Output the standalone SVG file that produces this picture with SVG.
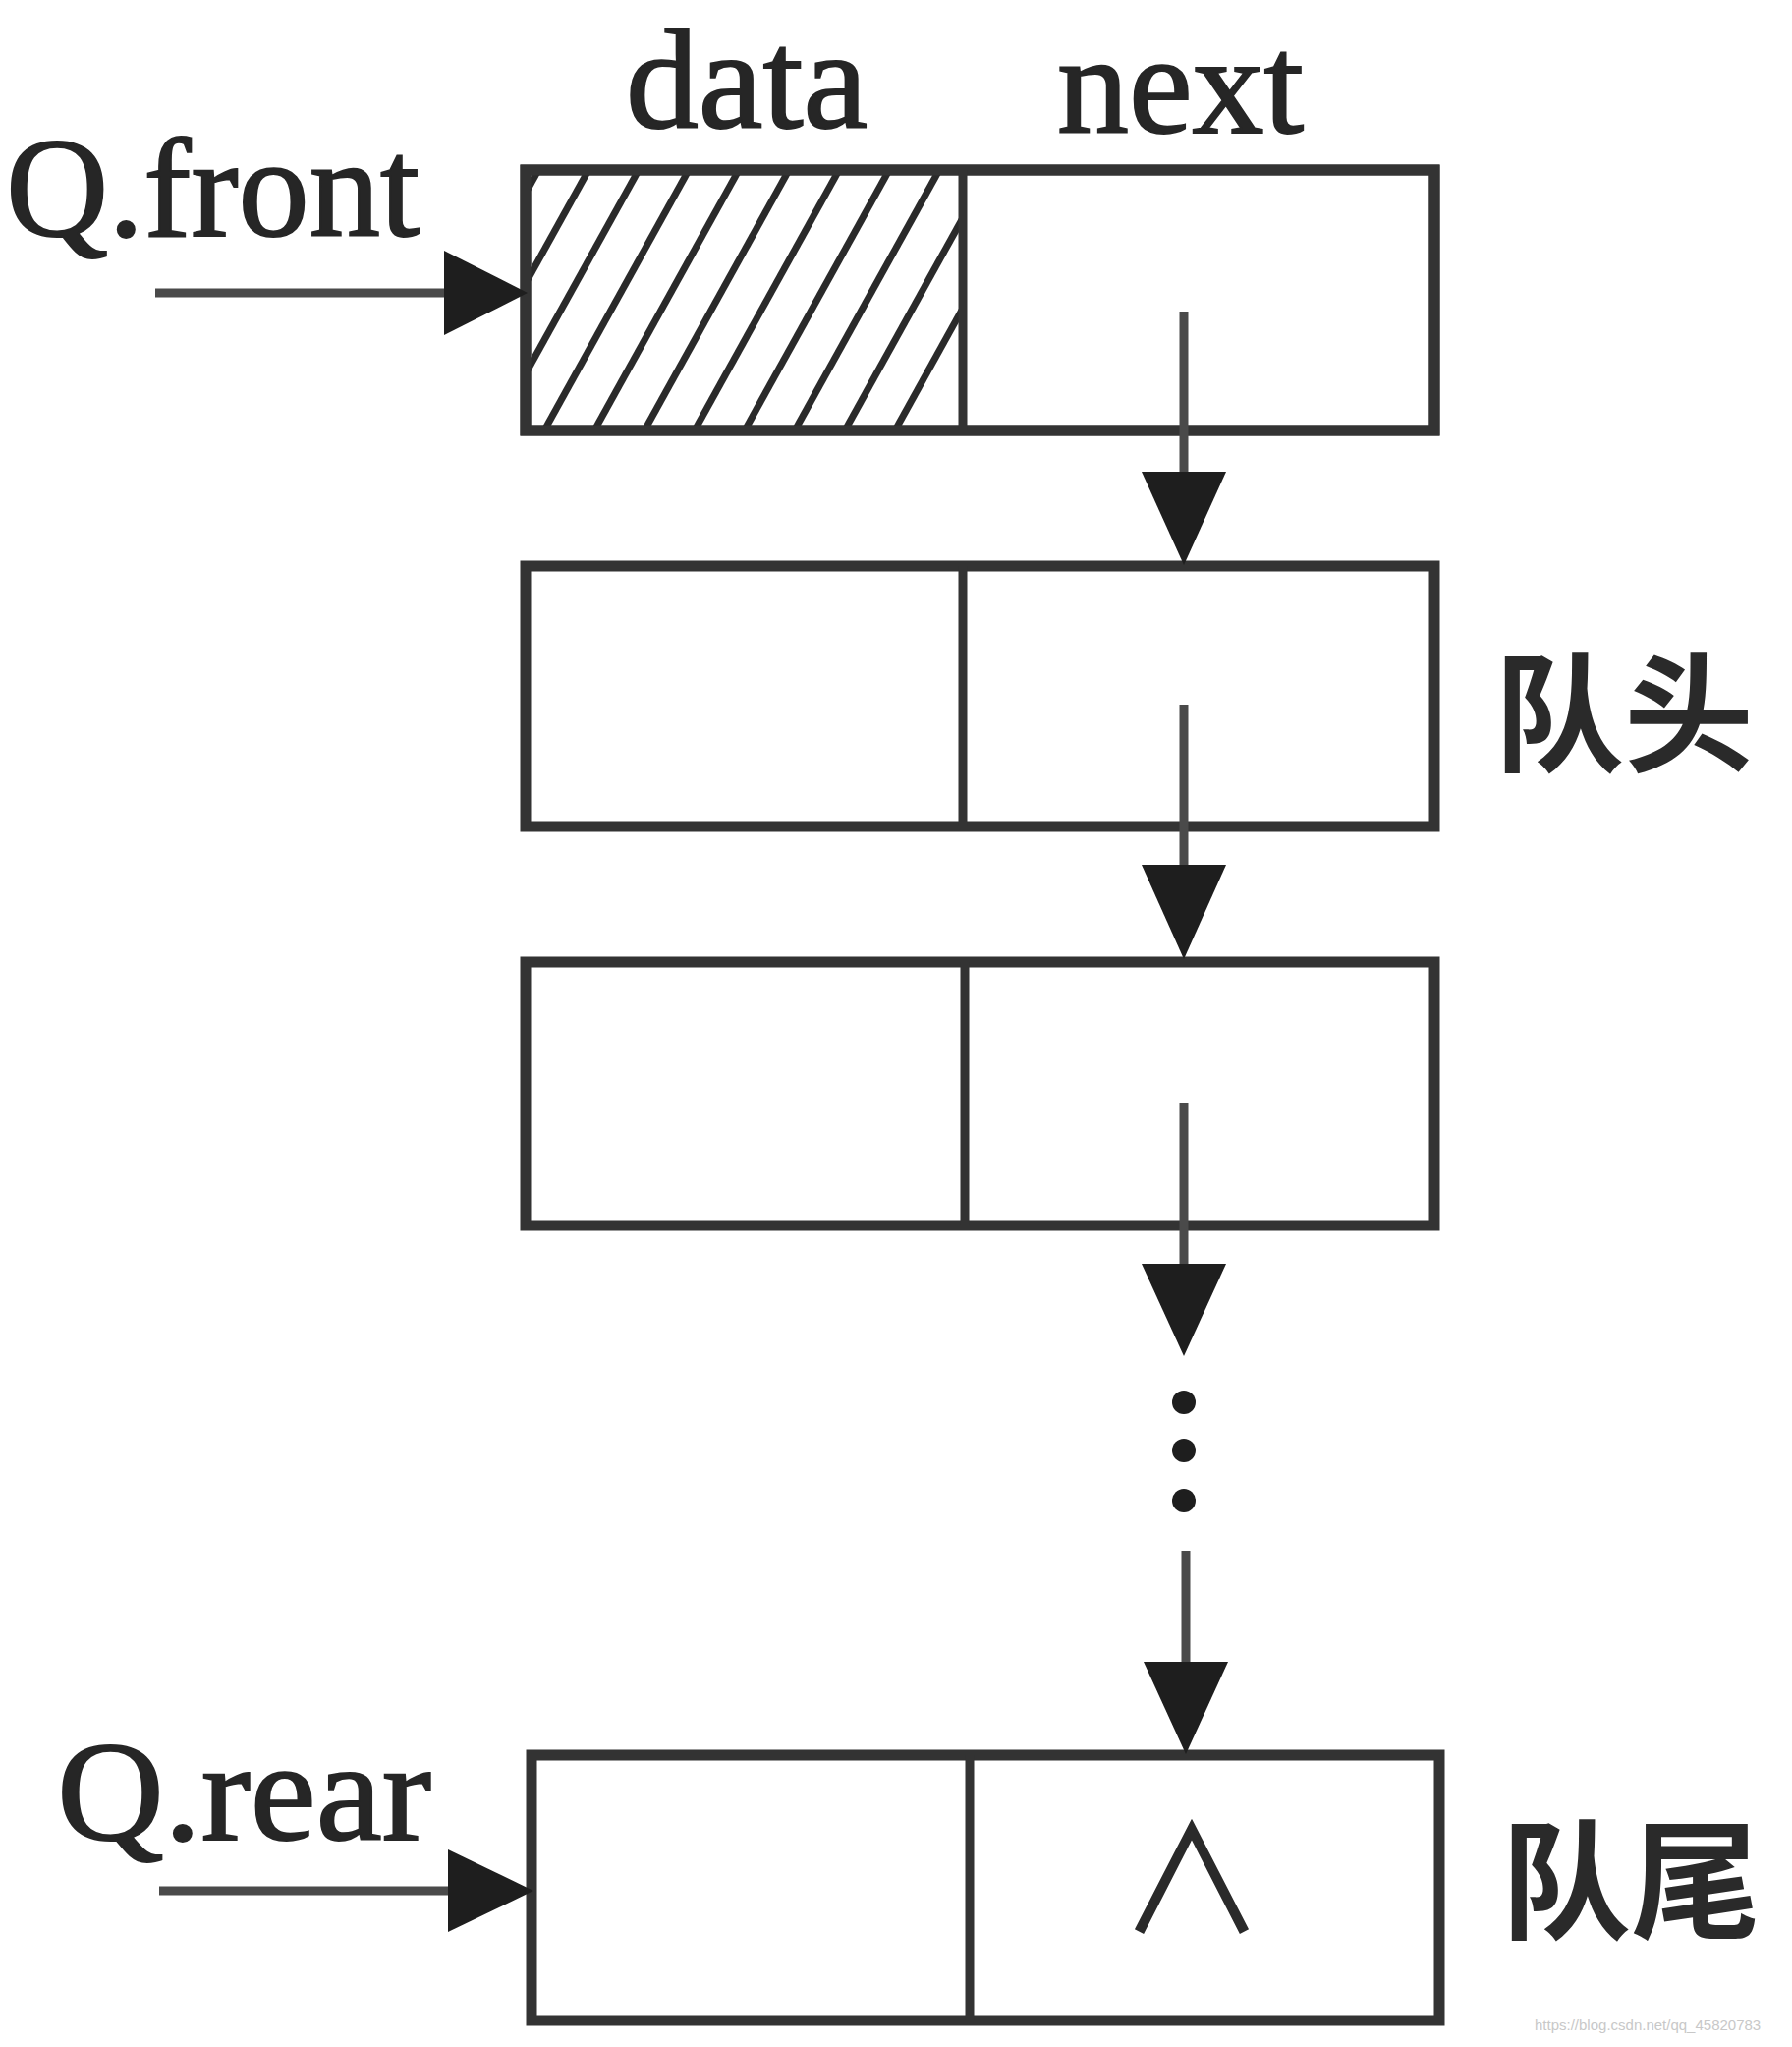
<svg xmlns="http://www.w3.org/2000/svg" width="1824" height="2083" viewBox="0 0 1824 2083">
<style>
.box{fill:#fff;stroke:#333;stroke-width:11;stroke-linejoin:miter}
.div{stroke:#333;stroke-width:9}
.hatch{stroke:#2a2a2a;stroke-width:7}
.lbl{font-family:"Liberation Serif","Times New Roman",serif;font-size:145px;fill:#262626;stroke:#262626;stroke-width:2}
.cjk{font-family:"Noto Sans CJK SC",sans-serif;font-size:132px;font-weight:bold;fill:#2a2a2a}
.ln{stroke:#4a4a4a;stroke-width:9;fill:none}
.hd{fill:#1e1e1e}
.dot{fill:#1e1e1e}
</style>
<defs>
<clipPath id="hclip"><rect x="535" y="173" width="445" height="265"/></clipPath>
</defs>
<rect width="1824" height="2083" fill="#fff"/>

<g id="labels-top">
<text class="lbl" x="637" y="130" textLength="246" lengthAdjust="spacingAndGlyphs">data</text>
<text class="lbl" x="1076" y="135" textLength="251" lengthAdjust="spacingAndGlyphs">next</text>
</g>

<g id="node1">
<rect class="box" x="535" y="173" width="925" height="265"/>
<g clip-path="url(#hclip)" class="hatch">
<line x1="401" y1="438" x2="548" y2="173"/>
<line x1="452" y1="438" x2="599" y2="173"/>
<line x1="503" y1="438" x2="650" y2="173"/>
<line x1="554" y1="438" x2="701" y2="173"/>
<line x1="605" y1="438" x2="752" y2="173"/>
<line x1="656" y1="438" x2="803" y2="173"/>
<line x1="707" y1="438" x2="854" y2="173"/>
<line x1="758" y1="438" x2="905" y2="173"/>
<line x1="809" y1="438" x2="956" y2="173"/>
<line x1="860" y1="438" x2="1007" y2="173"/>
<line x1="911" y1="438" x2="1058" y2="173"/>
</g>
<rect x="535" y="173" width="925" height="265" style="fill:none;stroke:#333;stroke-width:11"/>
<line class="div" x1="980" y1="173" x2="980" y2="438"/>
</g>

<g id="qfront">
<text class="lbl" x="6" y="240" textLength="421" lengthAdjust="spacingAndGlyphs">Q.front</text>
</g>

<g id="node2">
<rect class="box" x="535" y="576" width="925" height="265"/>
<line class="div" x1="980" y1="576" x2="980" y2="841"/>
</g>
<g id="label-head">
<text class="cjk" x="1521" y="775">队头</text>
</g>

<g id="node3">
<rect class="box" x="535" y="979" width="925" height="268"/>
<line class="div" x1="982" y1="979" x2="982" y2="1247"/>
</g>

<g id="node4">
<rect class="box" x="541" y="1786" width="924" height="270"/>
<line class="div" x1="987" y1="1786" x2="987" y2="2056"/>
<text x="1213" y="1967" text-anchor="middle" style="font-family:'Noto Sans CJK SC',sans-serif;font-size:150px;fill:#2a2a2a">∧</text>
</g>
<g id="label-tail">
<text class="cjk" x="1528" y="1963">队尾</text>
</g>

<g id="qrear">
<text class="lbl" x="58" y="1872" textLength="381" lengthAdjust="spacingAndGlyphs">Q.rear</text>
</g>

<g id="connectors">
<line class="ln" x1="158" y1="298" x2="460" y2="298"/>
<polygon class="hd" points="452,255 537,298 452,341"/>
<line class="ln" x1="162" y1="1924" x2="462" y2="1924"/>
<polygon class="hd" points="456,1882 543,1924 456,1966"/>

<line class="ln" x1="1205" y1="317" x2="1205" y2="490"/>
<polygon class="hd" points="1162,480 1248,480 1205,575"/>

<line class="ln" x1="1205" y1="717" x2="1205" y2="890"/>
<polygon class="hd" points="1162,880 1248,880 1205,976"/>

<line class="ln" x1="1205" y1="1122" x2="1205" y2="1295"/>
<polygon class="hd" points="1162,1286 1248,1286 1205,1380"/>

<circle class="dot" cx="1205" cy="1427" r="12"/>
<circle class="dot" cx="1205" cy="1476" r="12"/>
<circle class="dot" cx="1205" cy="1527" r="12"/>

<line class="ln" x1="1207" y1="1578" x2="1207" y2="1700"/>
<polygon class="hd" points="1164,1691 1250,1691 1207,1785"/>
</g>

<text x="1562" y="2066" style="font-family:'Liberation Sans',sans-serif;font-size:15px;fill:#c8c8c8">https://blog.csdn.net/qq_45820783</text>
</svg>
